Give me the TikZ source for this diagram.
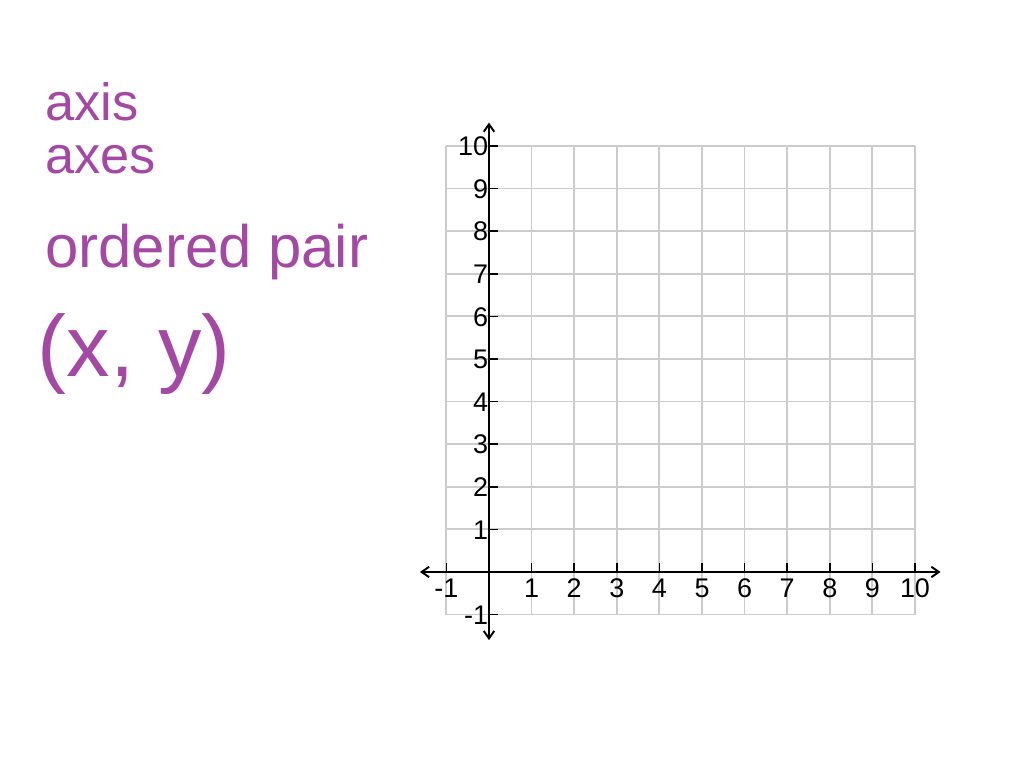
\documentclass[tikz,border=0pt]{standalone}
\usepackage{fontspec}
\setmainfont{Liberation Sans}
\usetikzlibrary{arrows.meta}
\definecolor{marker}{RGB}{163,73,164}
\tikzset{
  gridline/.style = {gray!40, line width=1.2pt},
  axisline/.style = {black, line width=1.3pt, {Straight Barb[length=5pt,width=7pt]}-{Straight Barb[length=5pt,width=7pt]}},
  tickmark/.style = {black, line width=1pt},
  ticklabel/.style = {font = \fontsize{18}{18}\selectfont, inner sep = 1pt, text height = 13pt, text depth = 0pt},
  ink/.style = {text = marker, font = \fontsize{35}{35}\selectfont, inner sep = 0, anchor = base west}
}
\begin{document}
\begin{tikzpicture}
  \useasboundingbox (-11.479,-4.601) rectangle (12.559,13.427);
  % grid
  \draw[gridline] (-1,-1) grid (10,10);
  % axes
  \coordinate (xleft) at (-1.62,0);
  \coordinate (xright) at (10.6,0);
  \coordinate (ybottom) at (0,-1.6);
  \coordinate (ytop) at (0,10.55);
  \draw[axisline] (xleft) -- (xright);
  \draw[axisline] (ybottom) -- (ytop);
  \foreach \i in {-1,1,2,...,10} {
    \draw[tickmark] (\i,0) -- (\i,0.22);
    \node[ticklabel, below] (x\i) at (\i,-0.1) {\i};
    \draw[tickmark] (0,\i) -- (0.2,\i);
    \node[ticklabel, left] (y\i) at (0.02,\i) {\i};
  }
  % words
  \node[ink] (axis) at (-10.42,10.6) {axis};
  \node[ink] (axes) at (-10.42,9.35) {axes};
  \node[ink, font = \fontsize{40}{40}\selectfont] (pair) at (-10.42,7.14) {ordered pair};
  \node[ink, font = \fontsize{58}{58}\selectfont] (xy) at (-10.6,4.6) {(x, y)};
\end{tikzpicture}
\end{document}
